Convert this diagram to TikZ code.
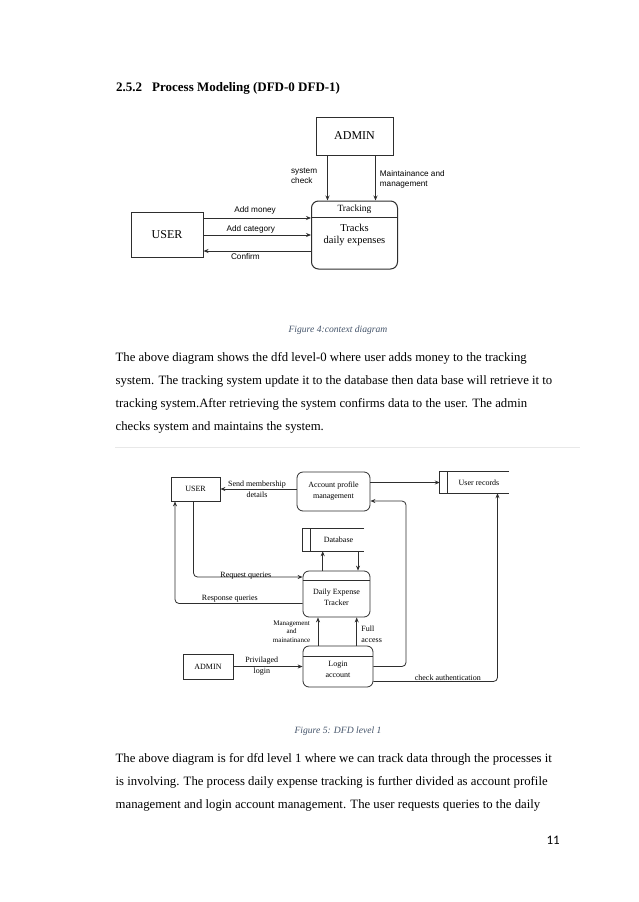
\documentclass[tikz,border=0pt]{standalone}
\usepackage{fontspec}
\setmainfont{Liberation Serif}
\newfontfamily\arialfont{Liberation Sans}
\newfontfamily\calibrifont{Carlito}
\usetikzlibrary{arrows.meta}
\definecolor{captionblue}{HTML}{44546A}
\definecolor{linegray}{HTML}{2E2E2E}
\definecolor{rulegray}{HTML}{E8E8E8}

\begin{document}
\begin{tikzpicture}[x=1pt, y=-1pt,
    box/.style={draw=linegray, line width=0.8pt, inner sep=0pt, align=center},
    proc/.style={box, rounded corners=7pt},
    store/.style={inner sep=0pt, align=center},
    arr/.style={draw=linegray, line width=0.8pt, -{Stealth[length=5pt,width=4pt]}},
    flow/.style={font=\arialfont\fontsize{8.2}{10}\selectfont, inner sep=1pt, align=left},
    dfont/.style={font=\fontsize{8}{11}\selectfont, align=center},
    para/.style={anchor=base west, inner sep=0pt, font=\fontsize{12.75}{15}\selectfont},
    caption/.style={anchor=base, inner sep=0pt, text=captionblue, font=\itshape\fontsize{9.6}{11}\selectfont}
]
    \fill[white] (0,0) rectangle (638,902);
    \useasboundingbox (0,0) rectangle (638,902);

    % Heading
    \node[anchor=base west, inner sep=0pt, font=\bfseries\fontsize{13}{15}\selectfont] (secnum) at (116,91) {2.5.2};
    \node[anchor=base west, inner sep=0pt, font=\bfseries\fontsize{13}{15}\selectfont] (sectitle) at (152,91) {Process Modeling (DFD-0 DFD-1)};

    % Context diagram
    \node[box, line width=1pt, minimum width=77pt, minimum height=38pt, font=\fontsize{12}{14}\selectfont] (admin) at (354.5,136) {ADMIN};
    \node[proc, line width=1pt, minimum width=86pt, minimum height=68pt, font=\fontsize{10.5}{12}\selectfont] (track) at (354.5,235) {Tracks\\daily expenses};
    \node[inner sep=0pt, font=\fontsize{9.5}{11}\selectfont] (trackhead) at ([yshift=-8.5pt]track.north) {Tracking};
    \draw[draw=linegray, line width=1pt] ([yshift=-17pt]track.north west) -- ([yshift=-17pt]track.north east);
    \node[box, line width=1pt, minimum width=72pt, minimum height=45pt, font=\fontsize{12}{14}\selectfont] (user) at (167,235) {USER};

    \draw[arr] ([yshift=17pt]user.east) -- node[flow, above=2pt, pos=0.48] (addmoney) {Add money} ([yshift=17pt]track.west);
    \draw[arr] (user.east) -- node[flow, above=0pt, pos=0.44] (addcat) {Add category} (track.west);
    \draw[arr] ([yshift=-16pt]track.west) -- node[flow, below=1pt, pos=0.61] (confirm) {Confirm} ([yshift=-16pt]user.east);

    \draw[arr] ([xshift=-27pt]admin.south) -- node[flow, left=9pt, pos=0.46] (syscheck) {system\\check} ([xshift=-27pt]track.north);
    \draw[arr] ([xshift=21pt]admin.south) -- node[flow, right=3pt, pos=0.54] (maint) {Maintainance and\\management} ([xshift=21pt]track.north);

    \node[caption] (cap4) at (338,332) {Figure 4:context diagram};

    % First paragraph
    \foreach \lineText [count=\i] in {The above diagram shows the dfd level-0 where user adds money to the tracking,
        system. The tracking system update it to the database then data base will retrieve it to,
        tracking system.After retrieving the system confirms data to the user. The admin,
        checks system and maintains the system.}
        \node[para] (pa\i) at (115.5,{361.5+23*(\i-1)}) {\lineText};

    \draw[rulegray, line width=0.8pt] (115,447) -- (580,447);

    % DFD level 1
    \node[box, minimum width=49pt, minimum height=24pt, dfont] (user2) at (195.5,489) {USER};
    \node[proc, rounded corners=6pt, minimum width=73pt, minimum height=39pt, dfont] (acct) at (333.5,491.5) {Account profile\\management};

    \node[store, minimum width=69pt, minimum height=21pt, dfont] (urec) at (474.5,482.5) {\hspace{9pt}User records};
    \draw[draw=linegray, line width=0.8pt] (urec.north east) -- (urec.north west) -- (urec.south west) -- (urec.south east);
    \draw[draw=linegray, line width=0.8pt] ([xshift=7.7pt]urec.north west) -- ([xshift=7.7pt]urec.south west);

    \node[store, minimum width=61pt, minimum height=22pt, dfont] (db) at (333.5,540) {\hspace{10pt}Database};
    \draw[draw=linegray, line width=0.8pt] (db.north east) -- (db.north west) -- (db.south west) -- (db.south east);
    \draw[draw=linegray, line width=0.8pt] ([xshift=7.7pt]db.north west) -- ([xshift=7.7pt]db.south west);

    \node[proc, rounded corners=6pt, minimum width=67pt, minimum height=46pt] (det) at (336.5,594) {};
    \draw[draw=linegray, line width=0.8pt] ([yshift=-10pt]det.north west) -- ([yshift=-10pt]det.north east);
    \node[dfont, inner sep=0pt] (dettext) at ([yshift=-3.5pt]det.center) {Daily Expense\\Tracker};

    \node[box, minimum width=50pt, minimum height=25pt, dfont] (admin2) at (208,666.5) {ADMIN};
    \node[proc, rounded corners=6pt, minimum width=70pt, minimum height=41pt] (login) at (338,666.5) {};
    \draw[draw=linegray, line width=0.8pt] ([yshift=-11pt]login.north west) -- ([yshift=-11pt]login.north east);
    \node[dfont, inner sep=0pt] (logintext) at ([yshift=-3pt]login.center) {Login\\account};

    % Flows
    \draw[arr] (acct.west |- user2.east) -- node[dfont, pos=0.52] (sendmem) {Send membership\\details} (user2.east);
    \draw[arr] (acct.east |- urec.west) -- (urec.west);

    \coordinate (lk) at (406,501);
    \draw[arr, rounded corners=4pt] (login.east) -| (lk) -- (lk -| acct.east);
    \draw[arr, rounded corners=4pt] ([yshift=-15pt]login.east) -| node[dfont, anchor=base, pos=0.3, yshift=1pt] (chkauth) {check authentication} ([xshift=23pt]urec.south);

    \coordinate (rq) at (193.5,577);
    \draw[arr, rounded corners=4pt] (rq |- user2.south) -- (rq) -- node[dfont, anchor=base, pos=0.48] (reqq) {Request queries} (rq -| det.west);
    \coordinate (rs) at (175,603.5);
    \draw[arr, rounded corners=4pt] (rs -| det.west) -- node[dfont, anchor=base, pos=0.57, yshift=3pt] (resq) {Response queries} (rs) -- (rs |- user2.south);

    \coordinate (dbup) at (322.7,0);
    \coordinate (dbdn) at (358,0);
    \draw[arr] (dbup |- det.north) -- (dbup |- db.south);
    \draw[arr] (dbdn |- db.south) -- (dbdn |- det.north);

    \coordinate (mgx) at (318,0);
    \coordinate (fax) at (356.7,0);
    \draw[arr] (mgx |- login.north) -- node[font=\fontsize{7}{8.3}\selectfont, align=center, left=4pt] (mgmt) {Management\\and\\mainatinance} (mgx |- det.south);
    \draw[arr] (fax |- login.north) -- node[dfont, align=left, right=1pt, pos=0.4] (full) {Full\\access} (fax |- det.south);

    \draw[arr] (admin2.east) -- node[dfont, pos=0.41] (priv) {Privilaged\\login} (login.west);

    \node[caption] (cap5) at (338,733) {Figure 5: DFD level 1};

    % Second paragraph
    \foreach \lineText [count=\i] in {The above diagram is for dfd level 1 where we can track data through the processes it,
        is involving. The process daily expense tracking is further divided as account profile,
        management and login account management. The user requests queries to the daily}
        \node[para] (pb\i) at (115.5,{762.5+23*(\i-1)}) {\lineText};

    % Page number
    \node[anchor=base east, inner sep=0pt, font=\calibrifont\fontsize{13}{15}\selectfont] (pagenum) at (560,844) {11};
\end{tikzpicture}
\end{document}
